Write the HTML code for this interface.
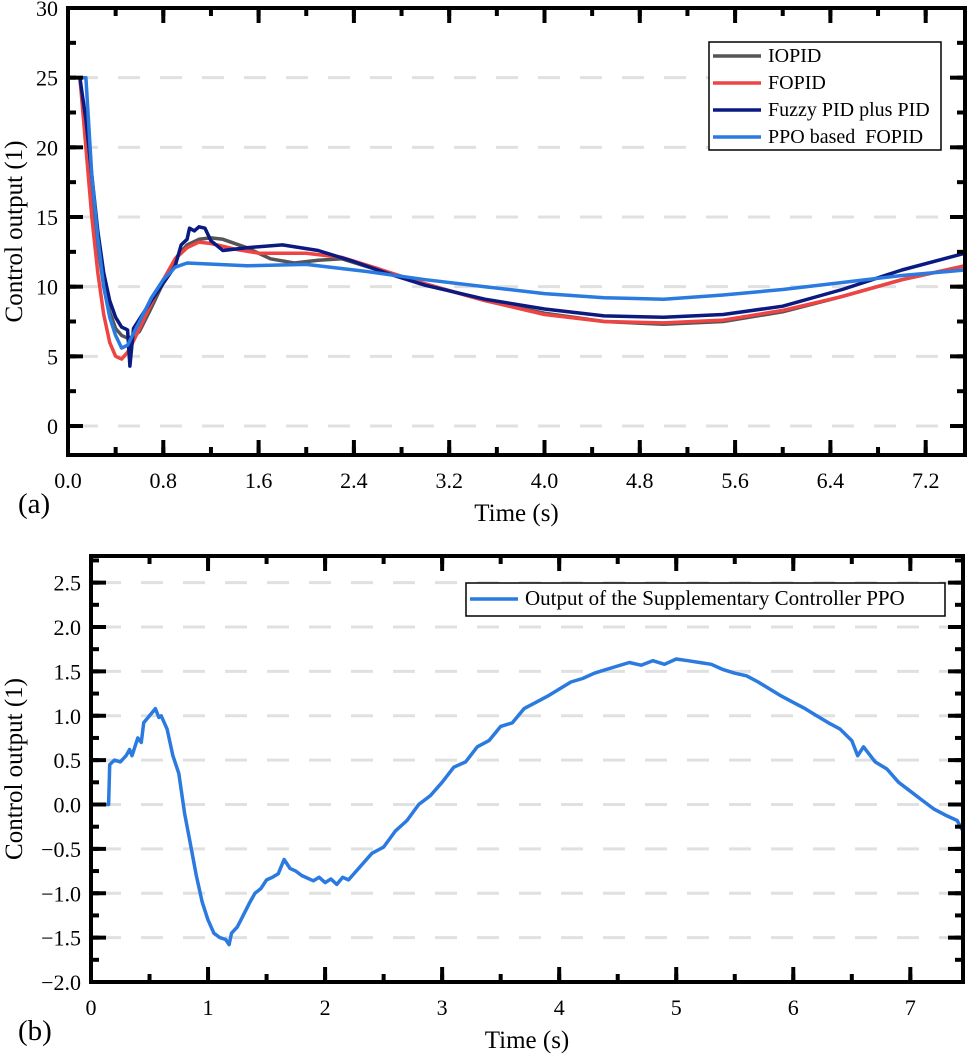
<!DOCTYPE html>
<html><head><meta charset="utf-8"><style>
html,body{margin:0;padding:0;background:#fff;}
svg{display:block;font-family:"Liberation Serif","Times New Roman",serif;}
</style></head><body>
<svg id="chart" width="968" height="1063" viewBox="0 0 968 1063" xmlns="http://www.w3.org/2000/svg"></svg>
<script>
// ---- Panel (a) data ----
const aSeriesNames = ["IOPID","FOPID","Fuzzy PID plus PID","PPO based  FOPID"];
const aColors = ["#555555","#ee4444","#0a1a80","#2a7ae0"];
const ioT = [0,0.1,0.15,0.2,0.25,0.3,0.35,0.4,0.45,0.5,0.55,0.6,0.7,0.8,0.9,1.0,1.1,1.2,1.3,1.5,1.7,1.9,2.1,2.3,2.6,3.0,3.5,4.0,4.5,5.0,5.5,6.0,6.5,7.0,7.55];
const ioV = [25,25,21,17,13,10,8.2,7,6.5,6.3,6.4,6.8,8.5,10.3,12,13,13.4,13.5,13.4,12.8,12,11.7,11.9,12,11.2,10.2,9,8.1,7.5,7.3,7.5,8.2,9.3,10.5,11.5];
const foT = [0,0.1,0.15,0.2,0.25,0.3,0.35,0.4,0.45,0.5,0.55,0.6,0.7,0.8,0.9,1.0,1.1,1.2,1.4,1.6,1.8,2.0,2.3,2.6,3.0,3.5,4.0,4.5,5.0,5.5,6.0,6.5,7.0,7.55];
const foV = [25,25,20,15,11,8,6,5,4.8,5.3,6.1,7,8.8,10.5,12,12.8,13.2,13.1,12.7,12.4,12.4,12.4,12.1,11.3,10.2,9,8,7.5,7.4,7.6,8.3,9.3,10.5,11.5];
const fzT = [0,0.1,0.15,0.2,0.25,0.3,0.35,0.4,0.45,0.5,0.52,0.55,0.7,0.9,0.95,1.0,1.02,1.06,1.1,1.15,1.2,1.3,1.5,1.8,2.1,2.4,2.7,3.0,3.5,4.0,4.5,5.0,5.5,6.0,6.5,7.0,7.55];
const fzV = [25,25,22,18,14,11,9,7.8,7.1,6.9,4.3,7,9,11.5,13,13.4,14.2,14,14.3,14.2,13.3,12.6,12.8,13,12.6,11.8,10.9,10.1,9.1,8.4,7.9,7.8,8,8.6,9.8,11.2,12.4];
const ppT = [0,0,0.15,0.2,0.25,0.3,0.35,0.4,0.45,0.5,0.6,0.7,0.8,0.9,1.0,1.5,2.0,2.5,3.0,3.5,4.0,4.5,5.0,5.5,6.0,6.5,7.0,7.55];
const ppV = [15,25,25,18,13.5,10,7.8,6.5,5.6,5.8,7.5,9.2,10.5,11.4,11.7,11.5,11.6,11.1,10.5,10,9.5,9.2,9.1,9.4,9.8,10.3,10.8,11.2];
const aXTicks = ["0.0","0.8","1.6","2.4","3.2","4.0","4.8","5.6","6.4","7.2"];
const aYTicks = ["0","5","10","15","20","25","30"];
// ---- Panel (b) data ----
const bT = [0,0,0.15,0.16,0.2,0.25,0.3,0.33,0.35,0.4,0.43,0.45,0.5,0.55,0.58,0.6,0.65,0.7,0.75,0.8,0.85,0.9,0.95,1.0,1.05,1.1,1.15,1.18,1.2,1.25,1.3,1.35,1.4,1.45,1.5,1.55,1.6,1.65,1.7,1.75,1.8,1.9,1.95,2.0,2.05,2.1,2.15,2.2,2.3,2.4,2.5,2.6,2.7,2.8,2.9,3.0,3.1,3.2,3.3,3.4,3.5,3.6,3.7,3.8,3.9,4.0,4.1,4.2,4.3,4.4,4.5,4.6,4.7,4.8,4.9,5.0,5.1,5.2,5.3,5.4,5.5,5.6,5.7,5.8,5.9,6.0,6.1,6.2,6.3,6.4,6.5,6.55,6.6,6.7,6.8,6.9,7.0,7.1,7.2,7.3,7.4,7.5];
const bV = [-2,0,0,0.45,0.5,0.48,0.55,0.62,0.55,0.75,0.7,0.92,1.0,1.08,0.98,1.0,0.85,0.55,0.35,-0.1,-0.45,-0.8,-1.1,-1.3,-1.45,-1.5,-1.52,-1.58,-1.45,-1.38,-1.25,-1.12,-1.0,-0.95,-0.85,-0.82,-0.78,-0.62,-0.72,-0.75,-0.8,-0.86,-0.82,-0.88,-0.84,-0.9,-0.82,-0.85,-0.7,-0.55,-0.48,-0.3,-0.18,0.0,0.1,0.25,0.42,0.48,0.65,0.72,0.88,0.92,1.08,1.15,1.22,1.3,1.38,1.42,1.48,1.52,1.56,1.6,1.57,1.62,1.58,1.64,1.62,1.6,1.58,1.52,1.48,1.45,1.38,1.3,1.22,1.15,1.08,1.0,0.92,0.85,0.72,0.55,0.65,0.48,0.4,0.25,0.15,0.05,-0.05,-0.12,-0.18,-0.3];
const bXTicks = ["0","1","2","3","4","5","6","7"];
const bYTicks = ["-2.0","-1.5","-1.0","-0.5","0.0","0.5","1.0","1.5","2.0","2.5"];

const NS="http://www.w3.org/2000/svg";
const svg=document.getElementById('chart');
function mk(tag,attrs,parent){const e=document.createElementNS(NS,tag);for(const k in attrs)e.setAttribute(k,attrs[k]);(parent||svg).appendChild(e);return e;}
function ln(g,x1,y1,x2,y2,w){return mk('line',{x1:x1,y1:y1,x2:x2,y2:y2,style:'stroke:#000;stroke-width:'+w+'px'},g);}

function panel(cfg){
  const g=mk('g',{});
  
  
  const sx=v=>cfg.L+(v-cfg.x0)/(cfg.x1-cfg.x0)*(cfg.R-cfg.L);
  const sy=v=>cfg.B-(v-cfg.y0)/(cfg.y1-cfg.y0)*(cfg.B-cfg.T);
  cfg.grid.forEach(v=>{
    const l=mk('line',{x1:cfg.L+8,x2:cfg.R-4,y1:sy(v),y2:sy(v),style:'stroke:#e0e0e0;stroke-width:3px;stroke-dasharray:22 20'},g);
    
    
  });
  const sg=mk('g',{},g);
  cfg.series.forEach(s=>{
    const d=s.t.map((t,i)=>(i?'L':'M')+Math.min(sx(t),cfg.R).toFixed(1)+','+sy(s.v[i]).toFixed(1)).join('');
    const p=mk('path',{d:d,style:'fill:none;stroke:'+s.color+';stroke-width:3.5px;stroke-linejoin:round'},sg);
    
    
  });
  const fr=mk('g',{},g);
  
  
  ln(fr,cfg.L,cfg.T,cfg.R,cfg.T,4);ln(fr,cfg.L,cfg.B,cfg.R,cfg.B,4);
  ln(fr,cfg.L,cfg.T-2,cfg.L,cfg.B+2,4);ln(fr,cfg.R,cfg.T-2,cfg.R,cfg.B+2,4);
  cfg.xt.forEach(lab=>{
    const v=parseFloat(lab);const x=sx(v);
    ln(g,x,cfg.B,x,cfg.B-15,4);ln(g,x,cfg.T,x,cfg.T+15,4);
    const t=mk('text',{x:x,y:cfg.B+33,'text-anchor':'middle',style:'font-size:22px'},g);
    t.textContent=lab;
    
    
  });
  for(let v=cfg.x0+cfg.xm;v<cfg.x1-1e-6;v+=cfg.xm){const x=sx(v);
    ln(g,x,cfg.B,x,cfg.B-8,4);ln(g,x,cfg.T,x,cfg.T+8,4);}
  cfg.yt.forEach(lab=>{
    const v=parseFloat(lab);const y=sy(v);
    ln(g,cfg.L,y,cfg.L+15,y,4);ln(g,cfg.R,y,cfg.R-15,y,4);
    const t=mk('text',{x:cfg.L-10,y:y+8,'text-anchor':'end',style:'font-size:22px'},g);
    t.textContent=lab.replace('-','\u2212');
    
    
  });
  for(let v=cfg.ym0;v<cfg.y1;v+=cfg.ym){const y=sy(v);
    ln(g,cfg.L,y,cfg.L+8,y,4);ln(g,cfg.R,y,cfg.R-8,y,4);}
  const xt=mk('text',{x:(cfg.L+cfg.R)/2,y:cfg.B+66,'text-anchor':'middle',style:'font-size:25px'},g);
  xt.textContent='Time (s)';
  
  
  const yc=(cfg.T+cfg.B)/2;
  const yt=mk('text',{'text-anchor':'middle',style:'font-size:25px',transform:`translate(${cfg.ytx},${yc}) rotate(-90)`},g);
  yt.textContent='Control output (1)';
  
  
  const pl=mk('text',{x:18,y:cfg.B+58,style:'font-size:29px'},g);
  pl.textContent=cfg.label;
  
  
  const lg=mk('g',{},g);
  
  
  mk('rect',{x:cfg.lg.x,y:cfg.lg.y,width:cfg.lg.w,height:cfg.lg.h,style:'fill:#fff;stroke:#000;stroke-width:1.5px'},lg);
  cfg.series.forEach((s,i)=>{
    const yy=cfg.lg.y+cfg.lg.first+i*cfg.lg.step;
    const e=mk('g',{},lg);
    
    
    mk('line',{x1:cfg.lg.x+4,x2:cfg.lg.x+52,y1:yy,y2:yy,style:'stroke:'+s.color+';stroke-width:3.5px'},e);
    const t=mk('text',{x:cfg.lg.x+59,y:yy+6,style:'font-size:'+cfg.lg.fs+'px;white-space:pre'},e);
    t.textContent=s.label;
  });
}

panel({name:'panel-a',L:68,R:965,T:8,B:455,x0:0,x1:7.53,y0:-2.08,y1:30,xm:0.4,ym0:-0,ym:2.5,
  grid:[0,5,10,15,20,25],xt:aXTicks,yt:aYTicks,ytx:22,label:'(a)',
  series:[{key:'iopid',t:ioT,v:ioV,color:aColors[0],label:aSeriesNames[0]},
          {key:'fopid',t:foT,v:foV,color:aColors[1],label:aSeriesNames[1]},
          {key:'fuzzy-pid',t:fzT,v:fzV,color:aColors[2],label:aSeriesNames[2]},
          {key:'ppo-fopid',t:ppT,v:ppV,color:aColors[3],label:aSeriesNames[3]}],
  lg:{x:709,y:42,w:232,h:108,first:14,step:27,fs:20}});

panel({name:'panel-b',L:91,R:963,T:556,B:982,x0:0,x1:7.45,y0:-2,y1:2.8,xm:0.5,ym0:-1.75,ym:0.25,
  grid:[-1.5,-1,-0.5,0,0.5,1,1.5,2,2.5],xt:bXTicks,yt:bYTicks,ytx:22,label:'(b)',
  series:[{key:'ppo-supplementary',t:bT,v:bV,color:'#2a7ae0',label:'Output of the Supplementary Controller PPO'}],
  lg:{x:466,y:583,w:479,h:33,first:16,step:27,fs:21}});
</script>
</body></html>
